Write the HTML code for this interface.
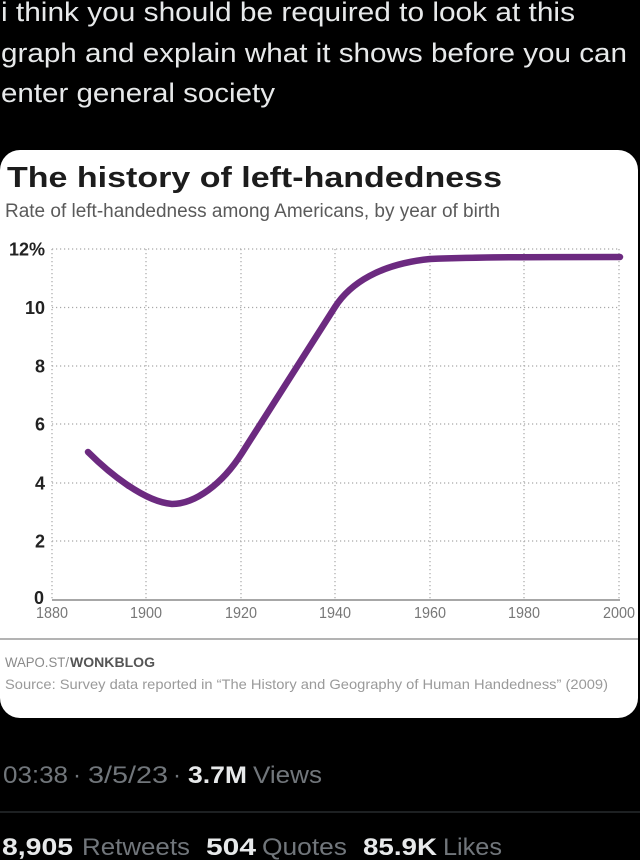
<!DOCTYPE html>
<html>
<head>
<meta charset="utf-8">
<style>
  html, body { margin: 0; padding: 0; background: #000; }
  svg { display: block; }
  text { font-family: "Liberation Sans", "DejaVu Sans", sans-serif; }
</style>
</head>
<body>
<svg width="640" height="860" viewBox="0 0 640 860" xmlns="http://www.w3.org/2000/svg">
  <rect x="0" y="0" width="640" height="860" fill="#000"/>

  <!-- Tweet text -->
  <text x="1" y="21" font-size="27" fill="#e7e9ea" textLength="574" lengthAdjust="spacingAndGlyphs">i think you should be required to look at this</text>
  <text x="1" y="62" font-size="27" fill="#e7e9ea" textLength="626" lengthAdjust="spacingAndGlyphs">graph and explain what it shows before you can</text>
  <text x="1" y="102" font-size="27" fill="#e7e9ea" textLength="274" lengthAdjust="spacingAndGlyphs">enter general society</text>

  <!-- Card -->
  <rect x="0" y="150" width="638" height="568" rx="20" ry="20" fill="#fff"/>

  <!-- Title / subtitle -->
  <text x="7" y="187" font-size="29" font-weight="bold" fill="#1c1c1c" textLength="495" lengthAdjust="spacingAndGlyphs">The history of left-handedness</text>
  <text x="5" y="217" font-size="19" fill="#5a5a5a" textLength="495" lengthAdjust="spacingAndGlyphs">Rate of left-handedness among Americans, by year of birth</text>

  <!-- Horizontal gridlines -->
  <g stroke="#a8a8a8" stroke-width="1.2" stroke-dasharray="1.2 2.8" fill="none">
    <line x1="52" y1="249" x2="620" y2="249"/>
    <line x1="52" y1="307.5" x2="620" y2="307.5"/>
    <line x1="52" y1="366" x2="620" y2="366"/>
    <line x1="52" y1="424" x2="620" y2="424"/>
    <line x1="52" y1="483" x2="620" y2="483"/>
    <line x1="52" y1="541" x2="620" y2="541"/>
    <!-- Vertical gridlines -->
    <line x1="52" y1="249" x2="52" y2="600"/>
    <line x1="146" y1="249" x2="146" y2="600"/>
    <line x1="241" y1="249" x2="241" y2="600"/>
    <line x1="335" y1="249" x2="335" y2="600"/>
    <line x1="430" y1="249" x2="430" y2="600"/>
    <line x1="524" y1="249" x2="524" y2="600"/>
    <line x1="619" y1="249" x2="619" y2="600"/>
  </g>

  <!-- Baseline axis -->
  <line x1="52" y1="600" x2="620" y2="600" stroke="#8a8a8a" stroke-width="1.6"/>

  <!-- Y labels -->
  <g font-size="18" font-weight="bold" fill="#222" text-anchor="end">
    <text x="45" y="255.5">12%</text>
    <text x="45" y="314">10</text>
    <text x="45" y="372.5">8</text>
    <text x="45" y="430.5">6</text>
    <text x="45" y="489.5">4</text>
    <text x="45" y="547.5">2</text>
    <text x="44" y="604">0</text>
  </g>

  <!-- X labels -->
  <g font-size="16" fill="#777" text-anchor="middle">
    <text x="52" y="618" textLength="32" lengthAdjust="spacingAndGlyphs">1880</text>
    <text x="146" y="618" textLength="32" lengthAdjust="spacingAndGlyphs">1900</text>
    <text x="241" y="618" textLength="32" lengthAdjust="spacingAndGlyphs">1920</text>
    <text x="335" y="618" textLength="32" lengthAdjust="spacingAndGlyphs">1940</text>
    <text x="430" y="618" textLength="32" lengthAdjust="spacingAndGlyphs">1960</text>
    <text x="524" y="618" textLength="32" lengthAdjust="spacingAndGlyphs">1980</text>
    <text x="619" y="618" textLength="32" lengthAdjust="spacingAndGlyphs">2000</text>
  </g>

  <!-- Curve -->
  <path d="M88,452 C110,474 145,502 172,504 C195,504 222,484.4 242,453 L335,307 C350,283.5 380,264 430,259 C480,257 540,257 620,257"
        fill="none" stroke="#6c2a80" stroke-width="6.5" stroke-linecap="round" stroke-linejoin="round"/>

  <!-- Divider -->
  <line x1="0" y1="639" x2="638" y2="639" stroke="#9a9a9a" stroke-width="1.5"/>

  <!-- Footer -->
  <text x="5" y="667" font-size="14" fill="#8a8a8a" textLength="64" lengthAdjust="spacingAndGlyphs">WAPO.ST/</text>
  <text x="70" y="667" font-size="14" font-weight="bold" fill="#555" textLength="85" lengthAdjust="spacingAndGlyphs">WONKBLOG</text>
  <text x="5" y="689" font-size="14" fill="#9a9a9a" textLength="603" lengthAdjust="spacingAndGlyphs">Source: Survey data reported in “The History and Geography of Human Handedness” (2009)</text>

  <!-- Meta line -->
  <g font-size="24">
    <text x="3" y="783" fill="#71767b" textLength="65" lengthAdjust="spacingAndGlyphs">03:38</text>
    <text x="77" y="783" fill="#71767b" text-anchor="middle">·</text>
    <text x="88" y="783" fill="#71767b" textLength="80" lengthAdjust="spacingAndGlyphs">3/5/23</text>
    <text x="177" y="783" fill="#71767b" text-anchor="middle">·</text>
    <text x="188" y="783" fill="#e7e9ea" font-weight="bold" textLength="59" lengthAdjust="spacingAndGlyphs">3.7M</text>
    <text x="253" y="783" fill="#71767b" textLength="69" lengthAdjust="spacingAndGlyphs">Views</text>
  </g>

  <line x1="0" y1="812" x2="640" y2="812" stroke="#2f3336" stroke-width="1.2"/>

  <g font-size="24">
    <text x="2" y="855" fill="#e7e9ea" font-weight="bold" textLength="71" lengthAdjust="spacingAndGlyphs">8,905</text>
    <text x="82" y="855" fill="#71767b" textLength="108" lengthAdjust="spacingAndGlyphs">Retweets</text>
    <text x="206" y="855" fill="#e7e9ea" font-weight="bold" textLength="50" lengthAdjust="spacingAndGlyphs">504</text>
    <text x="262" y="855" fill="#71767b" textLength="85" lengthAdjust="spacingAndGlyphs">Quotes</text>
    <text x="363" y="855" fill="#e7e9ea" font-weight="bold" textLength="74" lengthAdjust="spacingAndGlyphs">85.9K</text>
    <text x="443" y="855" fill="#71767b" textLength="59" lengthAdjust="spacingAndGlyphs">Likes</text>
  </g>
</svg>
</body>
</html>
